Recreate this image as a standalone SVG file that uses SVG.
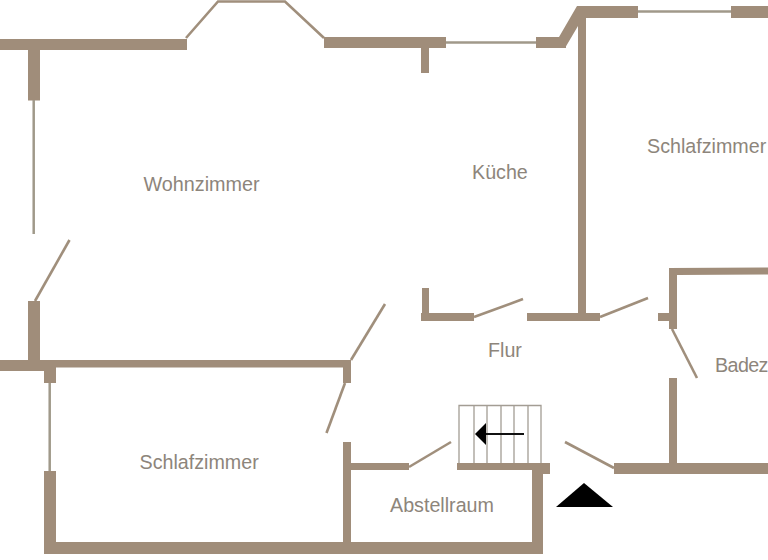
<svg xmlns="http://www.w3.org/2000/svg" width="768" height="560" viewBox="0 0 768 560">
<style>
.wall{fill:#a08d7a}
.thin{stroke:#a0998a;stroke-width:2.5;fill:none}
.door{stroke:#a08f7c;stroke-width:2.6;fill:none}
.stair{stroke:#a39d94;stroke-width:1.3;fill:none}
text{font-family:"Liberation Sans",Arial,sans-serif;font-size:19.7px;fill:#8d857b}
</style>
<rect width="768" height="560" fill="#fff"/>
<g id="walls">
<rect class="wall" x="0" y="39" width="187" height="11"/>
<rect class="wall" x="28" y="48" width="12" height="52.500"/>
<rect class="wall" x="324" y="37" width="122" height="11"/>
<rect class="wall" x="421" y="47" width="8" height="26"/>
<rect class="wall" x="536" y="37" width="30" height="11"/>
<polygon class="wall" points="559,37 577,6 638,6 638,18 586,18 586,316 578,316 578,26 565,48 559,48"/>
<rect class="wall" x="731" y="6" width="37" height="12"/>
<polygon class="wall" points="669,268 768,267.500 768,274.500 677,275 677,329 669,329"/>
<rect class="wall" x="658" y="313" width="12" height="8"/>
<rect class="wall" x="669" y="378" width="8" height="86"/>
<rect class="wall" x="614" y="463" width="154" height="11"/>
<rect class="wall" x="422" y="288" width="7" height="26"/>
<rect class="wall" x="421" y="313" width="53" height="8"/>
<rect class="wall" x="527" y="313" width="73" height="8"/>
<rect class="wall" x="28" y="301" width="12" height="60"/>
<rect class="wall" x="0" y="360" width="44" height="11"/>
<rect class="wall" x="40" y="360" width="311" height="7.500"/>
<rect class="wall" x="44" y="367" width="12" height="16"/>
<rect class="wall" x="343" y="360" width="8" height="23"/>
<rect class="wall" x="44" y="471" width="12" height="83"/>
<rect class="wall" x="44" y="542" width="499" height="12"/>
<rect class="wall" x="343" y="442" width="8" height="101"/>
<rect class="wall" x="351" y="463" width="58" height="7"/>
<polygon class="wall" points="457,463 550,463 550,474 543,474 543,554 532,554 532,470 457,470"/>
</g>
<g id="connectors">
<polyline class="door" points="186,38 218,1.500 285,1.500 324,38"/>
<line class="thin" x1="33.700" y1="100" x2="33.700" y2="234"/>
<line class="thin" x1="49.700" y1="383" x2="49.700" y2="471"/>
<line class="thin" x1="446" y1="42.500" x2="536" y2="42.500"/>
<line class="thin" x1="638" y1="11.500" x2="731" y2="11.500"/>
<line class="door" x1="69.500" y1="240" x2="35" y2="301"/>
<line class="door" x1="351" y1="360" x2="385" y2="304"/>
<line class="door" x1="345" y1="383" x2="326.500" y2="433"/>
<line class="door" x1="474" y1="317" x2="523" y2="299"/>
<line class="door" x1="600" y1="317" x2="648" y2="298"/>
<line class="door" x1="672" y1="329" x2="697" y2="378"/>
<line class="door" x1="614" y1="468" x2="565" y2="442"/>
<line class="door" x1="409" y1="467" x2="451" y2="442"/>
</g>
<g id="stairs">
<path class="stair" d="M459 463V405.500H541V463M474 405.500V463M487 405.500V463M501 405.500V463M514 405.500V463M528 405.500V463"/>
<line x1="524" y1="434" x2="484" y2="434" stroke="#111" stroke-width="1.800"/>
<polygon points="475,434 486,423 486,445" fill="#000"/>
</g>
<g id="entrance"><polygon points="584,483 613,507 556,507" fill="#000"/></g>
<g id="room-wohnzimmer"><text x="143.500" y="191" style="font-size:19.8px">Wohnzimmer</text></g>
<g id="room-kueche"><text x="472" y="178.500">Küche</text></g>
<g id="room-schlafzimmer-1"><text x="647" y="153">Schlafzimmer</text></g>
<g id="room-schlafzimmer-2"><text x="139.500" y="468.500">Schlafzimmer</text></g>
<g id="room-flur"><text x="488" y="356.500">Flur</text></g>
<g id="room-bad"><text x="715" y="372" letter-spacing="-0.6">Badez</text></g>
<g id="room-abstellraum"><text x="390" y="512">Abstellraum</text></g>
</svg>
